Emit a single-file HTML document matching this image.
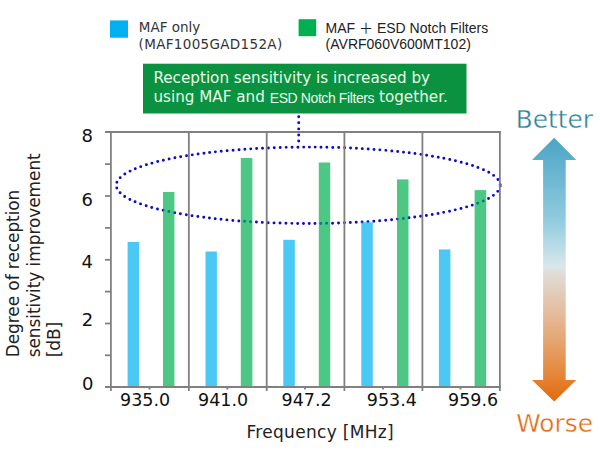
<!DOCTYPE html>
<html>
<head>
<meta charset="utf-8">
<style>
html,body{margin:0;padding:0;background:#fff;}
body{width:600px;height:465px;overflow:hidden;position:relative;}
svg{position:absolute;left:0;top:0;}
.mei{font-family:"DejaVu Sans","Noto Sans CJK JP",sans-serif;}
.ari{font-family:"Liberation Sans","Noto Sans CJK JP",sans-serif;}
</style>
</head>
<body>
<svg width="600" height="465" viewBox="0 0 600 465">
  <defs>
    <linearGradient id="arr" x1="0" y1="137.7" x2="0" y2="401.4" gradientUnits="userSpaceOnUse">
      <stop offset="0" stop-color="#4aa5c4"/>
      <stop offset="0.31" stop-color="#90cbdf"/>
      <stop offset="0.487" stop-color="#d8e7ec"/>
      <stop offset="0.52" stop-color="#e0dbd3"/>
      <stop offset="0.69" stop-color="#e5b793"/>
      <stop offset="0.85" stop-color="#e5934f"/>
      <stop offset="1" stop-color="#e36a0a"/>
    </linearGradient>
  </defs>

  <!-- legend -->
  <rect x="110" y="20.4" width="18" height="17.3" fill="#00b0f0"/>
  <text class="mei" x="138.8" y="31.6" font-size="13.5" fill="#333">MAF only</text>
  <text class="mei" x="138.6" y="49.3" font-size="13.5" fill="#333" letter-spacing="0.33">(MAF1005GAD152A)</text>
  <rect x="298.6" y="19.2" width="17.6" height="17" fill="#00b050"/>
  <text class="ari" x="325.6" y="32.5" font-size="14" fill="#222">MAF ＋ ESD Notch Filters</text>
  <text class="ari" x="325.6" y="49.2" font-size="14" fill="#222">(AVRF060V600MT102)</text>

  <!-- callout box -->
  <rect x="143" y="63.7" width="323.5" height="49.8" fill="#0a9241"/>
  <text class="mei" x="153.4" y="83.3" font-size="15.2" fill="#e8fbe8">Reception sensitivity is increased by</text>
  <text class="mei" x="153.4" y="102" font-size="15.2" fill="#e8fbe8">using MAF and <tspan class="ari" font-size="14" letter-spacing="-0.4" dy="0.8">ESD Notch Filters</tspan><tspan dy="-0.8"> together.</tspan></text>

  <!-- ellipse dots (under bars) -->
  <ellipse cx="308.25" cy="185.3" rx="191.95" ry="38.2" fill="none" stroke="#0c0cc8" stroke-width="2.95" stroke-linecap="round" stroke-dasharray="0 5.872" stroke-dashoffset="-0.85"/>
  <line x1="298.7" y1="116.8" x2="298.7" y2="147" stroke="#0c0cc8" stroke-width="2.95" stroke-linecap="round" stroke-dasharray="0 6.04"/>

  <!-- plot frame -->
  <g stroke="#808080" stroke-width="1.8" fill="none">
    <line x1="105" y1="132" x2="500.8" y2="132"/>
    <line x1="110.9" y1="131" x2="110.9" y2="391"/>
    <line x1="105" y1="387" x2="500.8" y2="387"/>
    <line x1="188.85" y1="132" x2="188.85" y2="391"/>
    <line x1="266.7" y1="132" x2="266.7" y2="391"/>
    <line x1="344.4" y1="132" x2="344.4" y2="391"/>
    <line x1="422.4" y1="132" x2="422.4" y2="391"/>
    <line x1="499.9" y1="131" x2="499.9" y2="391"/>
    <!-- y ticks -->
    <line x1="105" y1="164.1" x2="111" y2="164.1"/>
    <line x1="105" y1="196" x2="111" y2="196"/>
    <line x1="105" y1="227.9" x2="111" y2="227.9"/>
    <line x1="105" y1="259.8" x2="111" y2="259.8"/>
    <line x1="105" y1="291.6" x2="111" y2="291.6"/>
    <line x1="105" y1="323.5" x2="111" y2="323.5"/>
    <line x1="105" y1="355.3" x2="111" y2="355.3"/>
    <!-- x minor ticks -->
    <line x1="149.5" y1="386" x2="149.5" y2="389.6"/>
    <line x1="227.3" y1="386" x2="227.3" y2="389.6"/>
    <line x1="305" y1="386" x2="305" y2="389.6"/>
    <line x1="383" y1="386" x2="383" y2="389.6"/>
    <line x1="460.5" y1="386" x2="460.5" y2="389.6"/>
  </g>

  <!-- bars (semi-transparent, drawn over dots) -->
  <g fill-opacity="0.7">
    <rect x="127.6" y="242" width="11.6" height="144" fill="#00b0f0"/>
    <rect x="163" y="192" width="11.4" height="194" fill="#00b050"/>
    <rect x="205.5" y="251.5" width="11.4" height="134.5" fill="#00b0f0"/>
    <rect x="240.8" y="158" width="11.6" height="228" fill="#00b050"/>
    <rect x="283.3" y="239.8" width="11.5" height="146.2" fill="#00b0f0"/>
    <rect x="318.8" y="162.5" width="11.4" height="223.5" fill="#00b050"/>
    <rect x="361.3" y="222.3" width="11.5" height="163.7" fill="#00b0f0"/>
    <rect x="397" y="179.4" width="11.5" height="206.6" fill="#00b050"/>
    <rect x="438.9" y="249.4" width="11.5" height="136.6" fill="#00b0f0"/>
    <rect x="474.6" y="190.1" width="11.6" height="195.9" fill="#00b050"/>
  </g>

  <!-- y labels -->
  <g class="mei" font-size="18" fill="#111" text-anchor="end">
    <text x="93" y="142.3">8</text>
    <text x="93" y="205.7">6</text>
    <text x="93" y="268.3">4</text>
    <text x="93.2" y="326">2</text>
    <text x="93.4" y="390">0</text>
  </g>
  <!-- x labels -->
  <g class="mei" font-size="17.5" fill="#111">
    <text x="120" y="406.1">935.0</text>
    <text x="198" y="406.1">941.0</text>
    <text x="281.5" y="406.1">947.2</text>
    <text x="366.8" y="406.1">953.4</text>
    <text x="448.1" y="406.1">959.6</text>
  </g>
  <text class="mei" x="246.5" y="437.5" font-size="17" fill="#222" letter-spacing="0.3">Frequency [MHz]</text>

  <!-- y axis title -->
  <g class="mei" font-size="17" fill="#222" transform="rotate(-90)" letter-spacing="-0.09">
    <text x="-357.3" y="18.7">Degree of reception</text>
    <text x="-357.3" y="39.5">sensitivity improvement</text>
    <text x="-357.3" y="60">[dB]</text>
  </g>

  <!-- better/worse arrow -->
  <path d="M554.2 137.7 L576.3 160.1 L565.7 160.1 L565.7 379.9 L576.3 379.9 L554.2 401.4 L532 379.9 L543.1 379.9 L543.1 160.1 L532 160.1 Z" fill="url(#arr)"/>
  <text class="mei" x="515.7" y="128.2" font-size="24.8" fill="#2c7f97" stroke="#fff" stroke-width="0.4">Better</text>
  <text class="mei" x="516.3" y="431.5" font-size="24.8" fill="#e26a0a" stroke="#fff" stroke-width="0.4">Worse</text>
</svg>
</body>
</html>
